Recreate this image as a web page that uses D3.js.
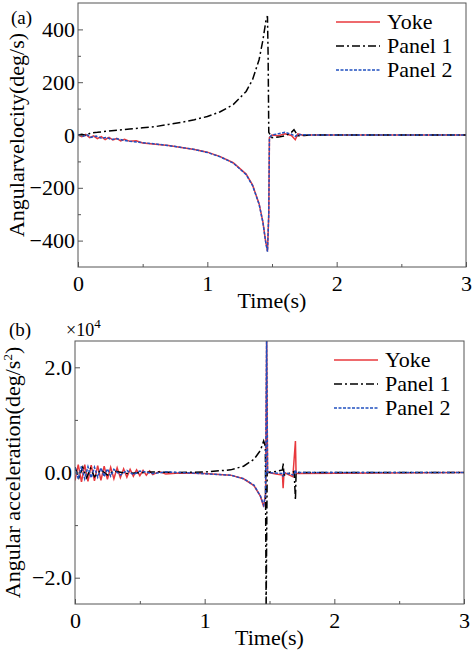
<!DOCTYPE html><html><head><meta charset="utf-8"><script src="https://cdn.jsdelivr.net/npm/d3@7"></script>
<style>body{margin:0;background:#fff}svg text{font-family:"Liberation Serif","Times New Roman",Times,serif !important;fill:#000}</style></head><body><svg id="c" width="474" height="651"></svg><script>
const seriesNames=["Yoke","Panel 1","Panel 2"];
const colors=["#e8383d","#000000","#2050c0"];
const dashes=[null,"8,3,2,3","3,1.5"];
const xTicks=[0,1,2,3];
const velTicks=[-400,-200,0,200,400];
const accTicks=[-2,0,2];
const velYoke=[[0,0],[0.03,-6],[0.06,2],[0.09,-10],[0.12,-3],[0.15,-14],[0.18,-6],[0.21,-17],[0.24,-9],[0.27,-19],[0.3,-13],[0.33,-22],[0.36,-16],[0.4,-24],[0.45,-22],[0.5,-30],[0.6,-35],[0.7,-40],[0.8,-47],[0.9,-55],[1.0,-65],[1.1,-82],[1.2,-105],[1.3,-148],[1.35,-190],[1.4,-260],[1.43,-330],[1.45,-400],[1.465,-440],[1.475,-300],[1.48,-10],[1.5,0],[1.55,-3],[1.6,5],[1.65,-2],[1.68,-18],[1.7,4],[1.75,-2],[1.8,0],[3,0]];
const velPanel1=[[0,0],[0.03,3],[0.06,-2],[0.1,8],[0.15,10],[0.2,13],[0.3,18],[0.4,23],[0.5,27],[0.6,32],[0.7,40],[0.8,48],[0.9,58],[1.0,70],[1.1,88],[1.2,115],[1.3,165],[1.35,210],[1.4,285],[1.43,360],[1.455,440],[1.465,450],[1.47,300],[1.475,10],[1.5,-10],[1.55,-8],[1.6,-3],[1.65,10],[1.67,20],[1.7,-3],[1.8,0],[3,0]];
const velPanel2=[[0,0],[0.04,-5],[0.07,1],[0.1,-9],[0.14,-4],[0.18,-12],[0.22,-9],[0.26,-17],[0.3,-14],[0.35,-20],[0.4,-24],[0.5,-29],[0.6,-34],[0.7,-40],[0.8,-47],[0.9,-55],[1.0,-66],[1.1,-83],[1.2,-106],[1.3,-150],[1.35,-192],[1.4,-262],[1.43,-332],[1.45,-402],[1.465,-442],[1.475,-300],[1.48,-10],[1.5,0],[1.55,5],[1.6,10],[1.65,3],[1.68,-5],[1.7,2],[1.8,0],[3,0]];
const accYoke=[[0,-0.15],[0.025,0.15],[0.05,-0.18],[0.075,0.15],[0.1,-0.17],[0.125,0.14],[0.15,-0.16],[0.175,0.13],[0.2,-0.15],[0.225,0.12],[0.25,-0.13],[0.275,0.1],[0.3,-0.12],[0.325,0.09],[0.35,-0.1],[0.375,0.07],[0.4,-0.09],[0.425,0.06],[0.45,-0.07],[0.475,0.05],[0.5,-0.06],[0.525,0.04],[0.55,-0.05],[0.575,0.03],[0.6,-0.04],[0.65,0.02],[0.7,-0.03],[0.8,-0.01],[1.0,-0.02],[1.2,-0.05],[1.3,-0.12],[1.38,-0.25],[1.43,-0.45],[1.455,-0.65],[1.47,-0.4],[1.478,2.6],[1.485,0],[1.55,-0.03],[1.6,-0.05],[1.605,-0.3],[1.612,0],[1.68,-0.08],[1.7,0.6],[1.705,-0.02],[3,0]];
const accPanel1=[[0,0.1],[0.03,-0.1],[0.06,0.1],[0.09,-0.1],[0.12,0.08],[0.15,-0.08],[0.2,0.05],[0.25,-0.05],[0.3,0.03],[0.4,-0.02],[0.6,0.01],[0.8,0],[1.0,0.01],[1.2,0.05],[1.3,0.12],[1.38,0.25],[1.43,0.42],[1.455,0.6],[1.468,0.5],[1.474,-2.6],[1.482,0],[1.55,0.02],[1.6,0.05],[1.605,0.18],[1.612,-0.05],[1.69,0.02],[1.7,-0.52],[1.705,0],[3,0]];
const accPanel2=[[0,0.1],[0.025,-0.12],[0.05,0.12],[0.075,-0.12],[0.1,0.11],[0.125,-0.1],[0.15,0.1],[0.175,-0.09],[0.2,0.09],[0.225,-0.08],[0.25,0.07],[0.275,-0.07],[0.3,0.06],[0.35,-0.05],[0.4,0.04],[0.45,-0.04],[0.5,0.03],[0.6,-0.02],[0.7,0.01],[0.9,-0.01],[1.2,-0.05],[1.3,-0.12],[1.38,-0.24],[1.43,-0.45],[1.455,-0.62],[1.47,-0.4],[1.478,2.6],[1.485,0],[1.6,-0.02],[1.605,-0.08],[1.612,0],[1.69,-0.05],[1.7,0.05],[1.705,0],[3,0]];
const svg=d3.select("#c");
const FS=22;
function panel(o){
 const x=d3.scaleLinear().domain([0,3]).range([o.l,o.r]);
 const y=d3.scaleLinear().domain(o.dom).range([o.b,o.t]);
 const id="cp"+o.tag.replace(/\W/g,"");
 svg.append("clipPath").attr("id",id).append("rect").attr("x",o.l).attr("y",o.t).attr("width",o.r-o.l).attr("height",o.b-o.t);
 const g=svg.append("g");
 const line=d3.line().x(d=>x(d[0])).y(d=>y(d[1]));
 o.data.forEach((d,i)=>{g.append("path").attr("d",line(d)).attr("clip-path",`url(#${id})`).attr("fill","none").attr("stroke",colors[i]).attr("stroke-width",1.5).attr("stroke-dasharray",dashes[i]);});
 svg.append("rect").attr("x",o.l).attr("y",o.t).attr("width",o.r-o.l).attr("height",o.b-o.t).attr("fill","none").attr("stroke","#555").attr("stroke-width",1);
 const xa=svg.append("g").attr("transform",`translate(0,${o.b})`).call(d3.axisBottom(x).tickValues(xTicks).tickSize(-5).tickPadding(8).tickFormat(d3.format("d")));
 svg.append("g").attr("transform",`translate(0,${o.b})`).call(d3.axisBottom(x).tickValues([0.5,1.5,2.5]).tickSize(-3).tickFormat(""));
 const ya=svg.append("g").attr("transform",`translate(${o.l},0)`).call(d3.axisLeft(y).tickValues(o.ticks).tickSize(-5).tickPadding(3).tickFormat(o.fmt));
 svg.append("g").attr("transform",`translate(${o.l},0)`).call(d3.axisLeft(y).tickValues(o.minor).tickSize(-3).tickFormat(""));
 svg.selectAll(".domain").remove();
 svg.selectAll(".tick line").attr("stroke","#555");
 xa.selectAll("text").attr("font-size",FS);
 ya.selectAll("text").attr("font-size",FS);
 svg.append("text").attr("x",(o.l+o.r)/2).attr("y",o.b+41).attr("text-anchor","middle").attr("font-size",FS).text("Time(s)");
 const yl=svg.append("text").attr("transform",`translate(${o.yl},${(o.t+o.b)/2}) rotate(-90)`).attr("text-anchor","middle").attr("font-size",FS);
 o.label(yl);
 svg.append("text").attr("x",o.tagx).attr("y",o.tagy).attr("font-size",19).text(o.tag);
 const lg=svg.append("g");
 seriesNames.forEach((n,i)=>{const yy=o.legy+i*24;
  lg.append("line").attr("x1",o.r-130).attr("x2",o.r-86).attr("y1",yy).attr("y2",yy).attr("stroke",colors[i]).attr("stroke-width",1.5).attr("stroke-dasharray",dashes[i]);
  lg.append("text").attr("x",o.r-79).attr("y",yy+7).attr("font-size",FS).text(n);});
}
panel({tag:"(a)",l:78,r:466,t:3,b:267,dom:[-500,500],ticks:velTicks,minor:[-300,-100,100,300],fmt:d3.format("d"),data:[velYoke,velPanel1,velPanel2],yl:24,tagx:11,tagy:24,legy:22,
 label:t=>t.text("Angularvelocity(deg/s)")});
panel({tag:"(b)",l:75,r:464,t:341,b:604,dom:[-2.5,2.5],ticks:accTicks,minor:[-1,1],fmt:d3.format(".1f"),data:[accYoke,accPanel1,accPanel2],yl:20,tagx:9,tagy:336,legy:360,
 label:t=>{t.text("Angular acceleration(deg/s");t.append("tspan").attr("dy",-8).attr("font-size",13).text("2");t.append("tspan").attr("dy",8).text(")");}});
const m=svg.append("text").attr("x",66).attr("y",336).attr("font-size",18).text("×10");
m.append("tspan").attr("dy",-8).attr("font-size",13).text("4");
</script></body></html>
